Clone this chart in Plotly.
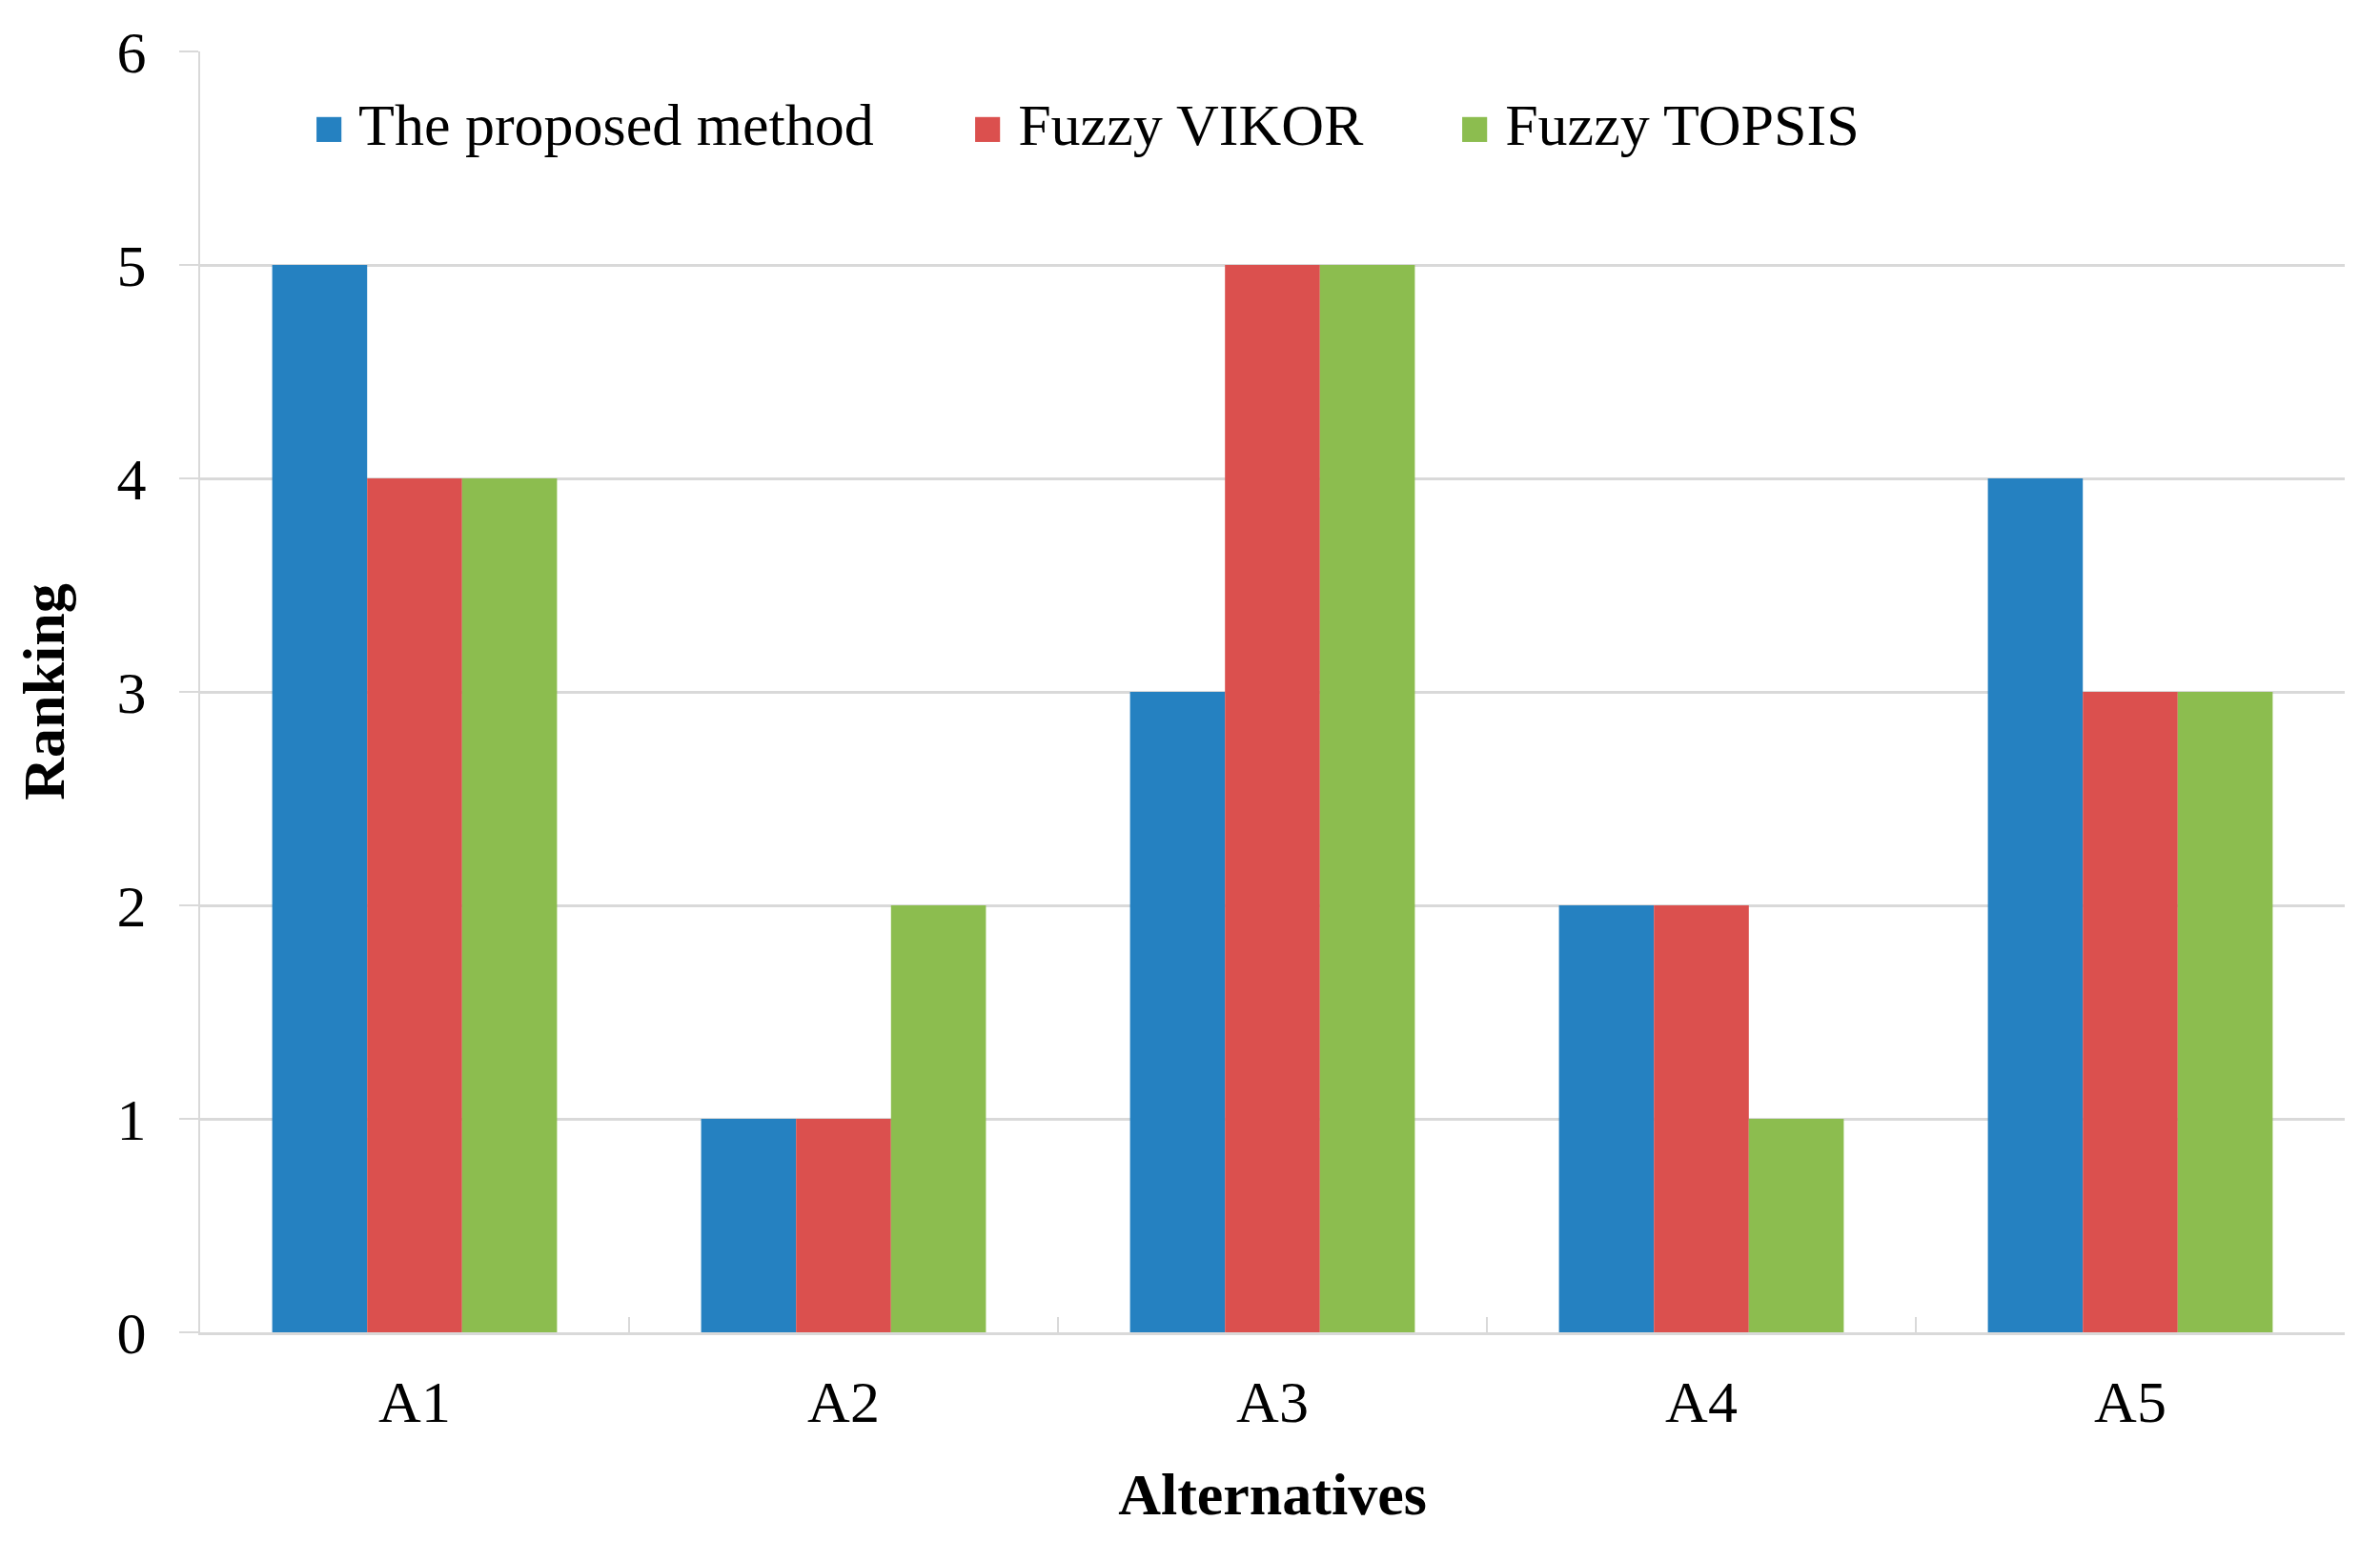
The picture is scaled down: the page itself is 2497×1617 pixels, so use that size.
import plotly.graph_objects as go

alternatives = ["A1", "A2", "A3", "A4", "A5"]
proposed = [5, 1, 3, 2, 4]
fuzzy_vikor = [4, 1, 5, 2, 3]
fuzzy_topsis = [4, 2, 5, 1, 3]

series = [
    ("The proposed method", proposed, "#2581C1"),
    ("Fuzzy VIKOR", fuzzy_vikor, "#DB504E"),
    ("Fuzzy TOPSIS", fuzzy_topsis, "#8CBD4F"),
]

FONT = "Liberation Serif, Times New Roman, serif"
GRID = "#D9D9D9"

fig = go.Figure()
for name, vals, color in series:
    fig.add_trace(go.Bar(
        x=alternatives, y=vals, name=name,
        marker=dict(color=color, line=dict(width=0)),
        showlegend=False,
    ))

# legend drawn as text with big square swatches (plotly's bar icons are tiny)
legend_x = [0.052, 0.359, 0.586]
for (name, _, color), lx in zip(series, legend_x):
    fig.add_annotation(
        xref="paper", yref="paper", x=lx, y=0.943,
        xanchor="left", yanchor="middle", showarrow=False,
        text=f'<span style="color:{color};font-size:54px">■</span> {name}',
        font=dict(family=FONT, size=62, color="black"),
    )

fig.update_layout(
    width=2497, height=1617,
    barmode="group", bargap=0.336, bargroupgap=0,
    paper_bgcolor="white", plot_bgcolor="white",
    margin=dict(l=210, r=37, t=54, b=219),
    font=dict(family=FONT, size=62, color="black"),
    showlegend=False,
    xaxis=dict(
        range=[-0.5, 4.5], showline=True, linecolor=GRID, linewidth=3,
        ticks="inside", tickson="boundaries", ticklen=16, tickcolor=GRID, tickwidth=2,
        ticklabelstandoff=17,
        title=dict(text="<b>Alternatives</b>", font=dict(family=FONT, size=62), standoff=42),
        showgrid=False, automargin=False,
    ),
    yaxis=dict(
        range=[0, 6], dtick=1, showline=True, linecolor=GRID, linewidth=2,
        showgrid=True, gridcolor=GRID, gridwidth=3,
        ticks="outside", ticklen=20, tickcolor=GRID, tickwidth=2,
        ticklabelstandoff=22,
        title=dict(text="<b>Ranking</b>", font=dict(family=FONT, size=62), standoff=35),
        zeroline=False, automargin=False,
    ),
)

fig.write_html("out.html", config={"displayModeBar": False},
               post_script="document.body.style.margin='0';")
